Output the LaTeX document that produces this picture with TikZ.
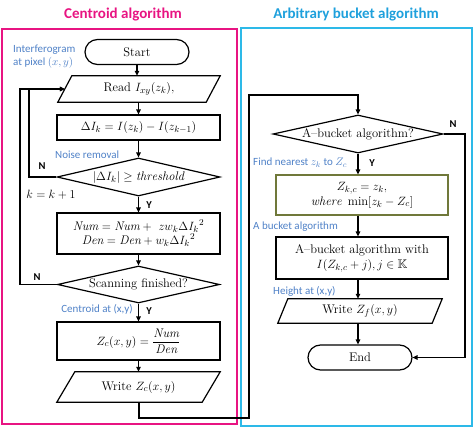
\documentclass[tikz,border=0pt]{standalone}
\usepackage{amsmath,amssymb}
\usepackage{fontspec}
\newfontfamily\carlito{Carlito}
\usetikzlibrary{shapes.geometric,shapes.misc,arrows.meta}
\definecolor{mag}{RGB}{232,20,130}
\definecolor{cyanbox}{RGB}{45,185,232}
\definecolor{cyantitle}{RGB}{30,160,220}
\definecolor{lblue}{RGB}{79,129,199}
\definecolor{olive}{RGB}{112,120,58}
\tikzset{
  box/.style={draw, line width=1.2pt, rectangle, inner sep=0pt},
  term/.style={draw, line width=1.2pt, rounded rectangle, inner sep=0pt, minimum width=104pt, minimum height=25pt},
  dia/.style={draw, line width=1.2pt, diamond, inner sep=0pt},
  iobox/.style={rectangle, inner sep=0pt},
  outline/.style={line width=1.2pt, line join=miter},
  txt/.style={font=\fontsize{12.5}{15}\selectfont, align=center},
  lbl/.style={font=\carlito\fontsize{11}{12.5}\selectfont, text=lblue, inner sep=0pt},
  yn/.style={font=\carlito\bfseries\fontsize{10.5}{11}\selectfont, inner sep=0pt},
  arr/.style={line width=1.3pt, -{Triangle[length=5pt,width=4.5pt]}},
}
\begin{document}
\begin{tikzpicture}[x=1pt,y=-1pt]
\useasboundingbox (0,0) rectangle (474,428);
% frames and titles
\draw[mag, line width=2pt] (2,29) rectangle (237,424);
\draw[cyanbox, line width=2pt] (241,28) rectangle (472,426);
\node[font=\carlito\bfseries\fontsize{15}{17}\selectfont, text=mag] (t1) at (123,15) {Centroid algorithm};
\node[font=\carlito\bfseries\fontsize{15}{17}\selectfont, text=cyantitle] (t2) at (356,15) {Arbitrary bucket algorithm};

% left column
\node[term] (start) at (137,52) {};
\node[txt] at (start) {Start};
\node[iobox, txt, minimum width=162pt, minimum height=26pt] (read) at (139,89) {Read $I_{xy}(z_k)$,};
\draw[outline] ([xshift=14pt]read.north west) -- (read.north east) -- ([xshift=-14pt]read.south east) -- (read.south west) -- cycle;
\coordinate (readW) at ([xshift=7pt]read.west);
\node[box, minimum width=163pt, minimum height=25pt] (dI) at (138.5,127.5) {};
\node[txt] at (dI) {$\Delta I_k = I(z_k) - I(z_{k-1})$};
\node[dia, minimum width=163pt, minimum height=38pt] (thr) at (138.5,177) {};
\node[txt] at (thr) {$|\Delta I_k| \geq \mathit{threshold}$};
\node[box, minimum width=163pt, minimum height=41pt] (num) at (138.5,233.5) {};
\node[txt] at (num) {$\mathit{Num} = \mathit{Num} + \ z w_k \Delta {I_k}^2$\\[-1pt] $\mathit{Den} = \mathit{Den} + w_k \Delta {I_k}^2$};
\node[dia, minimum width=162pt, minimum height=37pt] (scan) at (138.5,284.5) {};
\node[txt] at (scan) {Scanning finished?};
\node[box, minimum width=163pt, minimum height=38pt] (zc) at (138.5,341) {};
\node[txt] at (zc) {$Z_c(x,y) = \dfrac{\mathit{Num}}{\mathit{Den}}$};
\node[iobox, txt, minimum width=163pt, minimum height=30pt] (wzc) at (138.5,387) {Write $Z_c(x,y)$};
\draw[outline] ([xshift=18pt]wzc.north west) -- (wzc.north east) -- ([xshift=-18pt]wzc.south east) -- (wzc.south west) -- cycle;

\draw[arr] (start) -- (start |- read.north);
\draw[arr] (read.south -| dI) -- (dI);
\draw[arr] (dI) -- (thr);
\draw[arr] (thr) -- (num);
\draw[arr] (num) -- (scan);
\draw[arr] (scan) -- (zc);
\draw[arr] (zc) -- (wzc.north -| zc);

\coordinate (l1) at (29,177);
\coordinate (l2) at (20,284.5);
\draw[arr] (thr.west) -- (l1) |- (readW);
\draw[arr] (scan.west) -- (l2) |- (readW);

\node[yn] (n1) at (42,166) {N};
\node[yn] (n2) at (37,277) {N};
\node[yn] (y1) at (149,205) {Y};
\node[yn] (y2) at (149,311) {Y};
\node[font=\fontsize{12.5}{14}\selectfont] (kk) at (51,195) {$k = k + 1$};

\node[lbl, align=left, anchor=west] (li) at (13,56.5) {Interferogram\\at pixel $(x,y)$};
\node[lbl, anchor=west] (ln1) at (55,155) {Noise removal};
\node[lbl, anchor=east] (ln2) at (133,309) {Centroid at (x,y)};

% right column
\node[dia, minimum width=170pt, minimum height=38pt] (abq) at (358,134) {};
\node[txt] at (abq) {A--bucket algorithm?};
\node[box, draw=olive, minimum width=172pt, minimum height=40pt] (zkc) at (362,195) {};
\node[txt] at (zkc) {$Z_{k,c} = z_k,$\\ $\mathit{where}\ \min[z_k - Z_c]$};
\node[box, minimum width=172pt, minimum height=42pt] (ab) at (362,258) {};
\node[txt] at (ab) {A--bucket algorithm with\\ $I(Z_{k,c}+j), j \in \mathbb{K}$};
\node[iobox, txt, minimum width=164pt, minimum height=24pt] (wzf) at (360,311) {Write $Z_f(x,y)$};
\draw[outline] ([xshift=10pt]wzf.north west) -- (wzf.north east) -- ([xshift=-10pt]wzf.south east) -- (wzf.south west) -- cycle;
\node[term] (end) at (360,357.5) {};
\node[txt] at (end) {End};

\coordinate (c1) at (139,418);
\coordinate (c2) at (249,95);
\draw[arr] (wzc.south -| c1) -- (c1) -| (c2) -- (c2 -| abq.north) -- (abq.north);
\coordinate (c3) at (465,134);
\draw[arr] (abq.east) -- (c3) |- (end.east);

\draw[arr] (abq.south) -- (abq.south |- zkc.north);
\draw[arr] (zkc.south -| abq.south) -- (ab.north -| abq.south);
\draw[arr] (ab.south -| abq.south) -- (wzf.north -| abq.south);
\draw[arr] (wzf.south -| abq.south) -- (end.north -| abq.south);

\node[yn] (n3) at (453,124) {N};
\node[yn] (y3) at (372,163) {Y};
\node[lbl, anchor=west] (lf) at (253,163) {Find nearest $z_k$ to $Z_c$};
\node[lbl, anchor=west] (lb) at (253,227) {A bucket algorithm};
\node[lbl, anchor=west] (lh) at (273,291) {Height at (x,y)};
\end{tikzpicture}
\end{document}
